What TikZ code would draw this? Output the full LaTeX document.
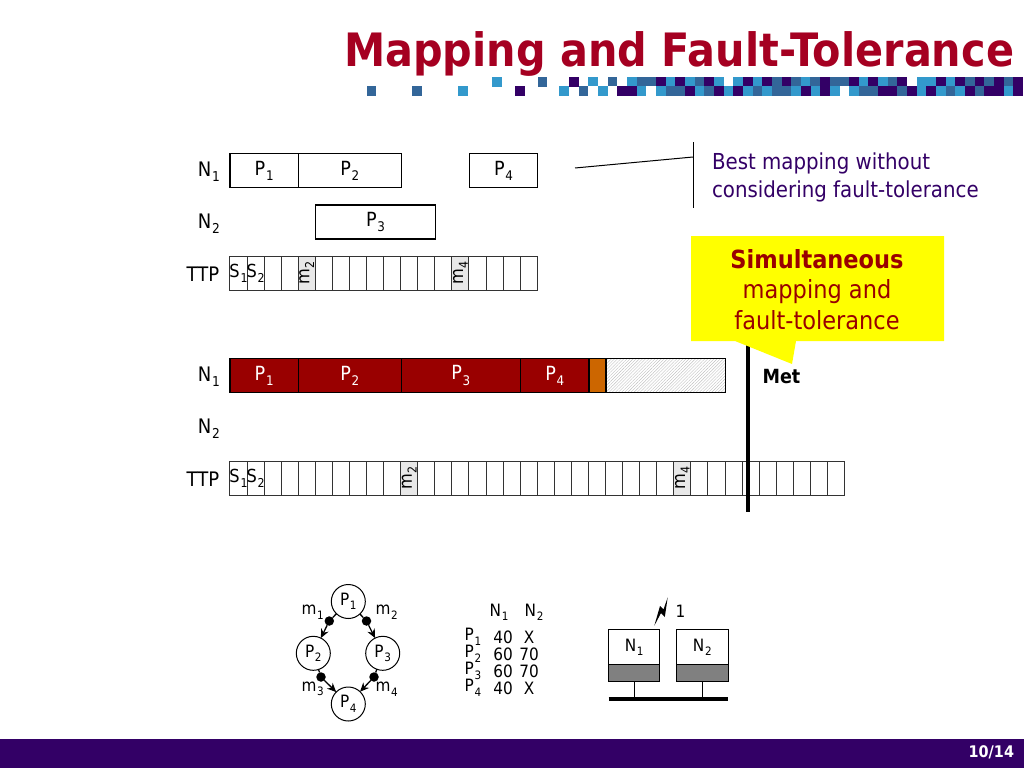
\documentclass[tikz,border=0pt]{standalone}
\usepackage{fontspec}
\usepackage{xcolor}
\usepackage{tikz}
\usetikzlibrary{arrows.meta,patterns.meta}
\setmainfont{DejaVu Sans}[FakeStretch=0.9]
\definecolor{titlered}{HTML}{A50021}
\definecolor{procred}{HTML}{990000}
\definecolor{slackorange}{HTML}{CC6600}
\definecolor{indigo}{HTML}{330066}
\definecolor{calloutyellow}{HTML}{FFFF00}
\definecolor{mosaicL}{HTML}{3399CC}
\definecolor{mosaicM}{HTML}{336699}
\definecolor{mosaicD}{HTML}{330066}
\definecolor{mosaicW}{HTML}{FFFFFF}
\newcommand{\subidx}[1]{\kern0.04em\raisebox{-0.48ex}{\scalebox{0.68}{#1}}}

\begin{document}
\begin{tikzpicture}[x=1pt,y=-1pt,>={Stealth[length=9pt,width=8pt]},
  every node/.style={inner sep=0pt,outer sep=0pt},
  lbl/.style={font=\fontsize{20}{22}\selectfont},
  proc/.style={draw=black,line width=1.1pt,minimum height=34pt,font=\fontsize{19.5}{22}\selectfont},
  procred/.style={proc,fill=procred,text=white},
  slot/.style={draw=black!80,line width=1pt,minimum width=17.07pt,minimum height=34pt},
  msgslot/.style={slot,fill=black!9},
  slotlbl/.style={font=\fontsize{18}{20}\selectfont},
  ptask/.style={circle,draw,line width=1pt,minimum size=34pt,fill=white,font=\fontsize{17}{20}\selectfont},
  msgdot/.style={circle,fill=black,minimum size=9.5pt},
  small/.style={font=\fontsize{17}{18}\selectfont}]
  \useasboundingbox (0,0) rectangle (1024,768);
  % title and mosaic
  \node[text=titlered,font=\fontsize{46}{50}\selectfont\bfseries,anchor=east] (title) at (1014,54) {Mapping and Fault-Tolerance};
  \foreach \px/\py/\c in {366.7/86/M,412.3/86/M,458/86/L,515/86/D,559.3/86/L,492.3/76.6/L,537.7/76.6/M,569/76.6/D}
    \fill[fill=mosaic\c] (\px,\py) rectangle ++(9.7,10);
  \foreach \c [count=\i from 0] in {L,W,M,W,L,M,M,D,L,D,L,M,D,L,W,L,D,L,D,M,D,M,L,M,D,M,M,D,L,D,L,M,D,W,L,L,D,L,D,M,D,M,D,M,D}
    \fill[fill=mosaic\c] ({588.3+9.66*\i},76.6) rectangle ++(9.7,9.6);
  \foreach \c [count=\i from 0] in {M,W,L,W,D,D,L,W,L,M,M,D,L,M,D,L,D,L,M,L,M,M,L,D,L,D,L,W,L,M,M,D,D,M,D,L,D,L,M,L,D,M,D,D,L,D}
    \fill[fill=mosaic\c] ({578.7+9.66*\i},86) rectangle ++(9.7,10);
  % best mapping
  \node[lbl] (na1) at (209,172) {N\subidx{1}};
  \node[lbl] (na2) at (209,224) {N\subidx{2}};
  \node[lbl] (nat) at (203,274) {TTP};
  \node[proc,minimum width=68.5pt] (pa1) at (264.2,170.5) {P\subidx{1}};
  \node[proc,minimum width=102.5pt] (pa2) at (349.8,170.5) {P\subidx{2}};
  \node[proc,minimum width=68pt] (pa4) at (503.5,170.5) {P\subidx{4}};
  \node[proc,minimum width=120pt] (pa3) at (375.5,222) {P\subidx{3}};
  \foreach \i in {0,...,17}
    \node[slot] (ta\i) at ({238.5+17.07*\i},273) {};
  \node[msgslot] (ta4m) at (ta4) {};
  \node[msgslot] (ta13m) at (ta13) {};
  \node[slotlbl] (sa1) at (ta0) {S\subidx{1}};
  \node[slotlbl] (sa2) at (ta1) {S\subidx{2}};
  \node[slotlbl,rotate=90] (ma2) at (ta4) {m\subidx{2}};
  \node[slotlbl,rotate=90] (ma4) at (ta13) {m\subidx{4}};
  % remark on the best mapping
  \coordinate (remfrom) at (575,168);
  \coordinate (remto) at (693,157);
  \coordinate (remtop) at (693,142);
  \coordinate (rembot) at (693,208);
  \draw[line width=1pt] (remfrom) -- (remto);
  \draw[line width=1pt] (remtop) -- (rembot);
  \node[text=indigo,anchor=north west,align=left,font=\fontsize{22}{27.5}\selectfont] (remark) at (712,153) {Best mapping without\\considering fault-tolerance};
  % deadline
  \coordinate (dltop) at (748,338);
  \coordinate (dlbot) at (748,512);
  % simultaneous
  \node[lbl] (nb1) at (209,377) {N\subidx{1}};
  \node[lbl] (nb2) at (209,429) {N\subidx{2}};
  \node[lbl] (nbt) at (203,479) {TTP};
  \node[procred,minimum width=68.5pt] (pb1) at (264.2,375.5) {P\subidx{1}};
  \node[procred,minimum width=102.5pt] (pb2) at (349.8,375.5) {P\subidx{2}};
  \node[procred,minimum width=119.5pt] (pb3) at (460.8,375.5) {P\subidx{3}};
  \node[procred,minimum width=68.5pt] (pb4) at (554.8,375.5) {P\subidx{4}};
  \node[proc,fill=slackorange,minimum width=17pt] (slack) at (597.5,375.5) {};
  \node[proc,pattern={Lines[angle=45,distance=2.2pt,line width=0.4pt]},pattern color=black!25,minimum width=119.5pt] (idle) at (665.7,375.5) {};
  \foreach \i in {0,...,35}
    \node[slot] (tb\i) at ({238.5+17.07*\i},478) {};
  \node[msgslot] (tb10m) at (tb10) {};
  \node[msgslot] (tb26m) at (tb26) {};
  \node[slotlbl] (sb1) at (tb0) {S\subidx{1}};
  \node[slotlbl] (sb2) at (tb1) {S\subidx{2}};
  \node[slotlbl,rotate=90] (mb2) at (tb10) {m\subidx{2}};
  \node[slotlbl,rotate=90] (mb4) at (tb26) {m\subidx{4}};
  \draw[line width=4.2pt] (dltop) -- (dlbot);
  \node[font=\fontsize{19.5}{22}\selectfont\bfseries] (met) at (781.5,376.5) {Met};
  \fill[calloutyellow] (691,236) -- (944,236) -- (944,341) -- (796,341) -- (792,364) -- (735,341) -- (691,341) -- cycle;
  \node[text=procred,align=center,font=\fontsize{25}{30.3}\selectfont] (simul) at (817,289.5) {\textbf{Simultaneous}\\mapping and\\fault-tolerance};
  % process graph
  \node[ptask] (P1) at (348.3,601.5) {P\subidx{1}};
  \node[ptask] (P2) at (313.3,653.3) {P\subidx{2}};
  \node[ptask] (P3) at (382.7,653.3) {P\subidx{3}};
  \node[ptask] (P4) at (348.3,704) {P\subidx{4}};
  \node[msgdot] (m1) at (329.3,621) {};
  \node[msgdot] (m2) at (366.5,621) {};
  \node[msgdot] (m3) at (321,677) {};
  \node[msgdot] (m4) at (374,677) {};
  \draw[line width=1.3pt] (P1) -- (m1);
  \draw[line width=1.3pt] (P1) -- (m2);
  \draw[line width=1.3pt] (P2) -- (m3);
  \draw[line width=1.3pt] (P3) -- (m4);
  \draw[->,line width=1.3pt] (m1) -- (P2);
  \draw[->,line width=1.3pt] (m2) -- (P3);
  \draw[->,line width=1.3pt] (m3) -- (P4);
  \draw[->,line width=1.3pt] (m4) -- (P4);
  \node[small] (lm1) at (312.7,612) {m\subidx{1}};
  \node[small] (lm2) at (386.7,612) {m\subidx{2}};
  \node[small] (lm3) at (312.7,689) {m\subidx{3}};
  \node[small] (lm4) at (386.7,689) {m\subidx{4}};
  % wcet table
  \node[small] (hn1) at (499,612.5) {N\subidx{1}};
  \node[small] (hn2) at (534,612.5) {N\subidx{2}};
  \node[small] (rp1) at (473,637) {P\subidx{1}};
  \node[small] (rp2) at (473,654) {P\subidx{2}};
  \node[small] (rp3) at (473,671) {P\subidx{3}};
  \node[small] (rp4) at (473,688) {P\subidx{4}};
  \node[small] (c11) at (503,637) {40};
  \node[small] (c12) at (529,637) {X};
  \node[small] (c21) at (503,654) {60};
  \node[small] (c22) at (529,654) {70};
  \node[small] (c31) at (503,671) {60};
  \node[small] (c32) at (529,671) {70};
  \node[small] (c41) at (503,688) {40};
  \node[small] (c42) at (529,688) {X};
  % architecture
  \node[draw,line width=1pt,minimum width=51.5pt,minimum height=34.5pt,small] (arch1) at (634.2,647.2) {N\subidx{1}};
  \node[draw,line width=1pt,minimum width=51.5pt,minimum height=34.5pt,small] (arch2) at (702.3,647.2) {N\subidx{2}};
  \node[draw,fill=black!50,line width=1pt,minimum width=51.5pt,minimum height=17.4pt] (cc1) at (634.2,673) {};
  \node[draw,fill=black!50,line width=1pt,minimum width=51.5pt,minimum height=17.4pt] (cc2) at (702.3,673) {};
  \coordinate (busl) at (608.5,698.8);
  \coordinate (busr) at (728,698.8);
  \coordinate (bus1) at (634.2,698.8);
  \coordinate (bus2) at (702.3,698.8);
  \draw[line width=1pt] (cc1) -- (bus1);
  \draw[line width=1pt] (cc2) -- (bus2);
  \draw[line width=4pt] (busl) -- (busr);
  \fill (654.3,625.7) -- (660,606) -- (663.5,609.5) -- (667.7,597.3) -- (664.8,617) -- (661,613) -- cycle;
  \node[small] (faults) at (680.5,611) {1};
  % footer
  \fill[indigo] (0,739) rectangle (1024,768);
  \node[text=white,font=\fontsize{16}{18}\selectfont\bfseries,anchor=east] (page) at (1014,752.5) {10/14};
\end{tikzpicture}
\end{document}
